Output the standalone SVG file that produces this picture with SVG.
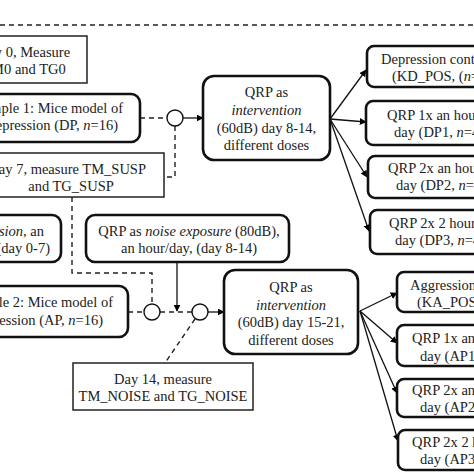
<svg xmlns="http://www.w3.org/2000/svg" width="474" height="474" viewBox="0 0 474 474">
<defs>
<marker id="ah" viewBox="0 0 10 10" refX="9" refY="5" markerWidth="7" markerHeight="7" markerUnits="userSpaceOnUse" orient="auto"><path d="M0,0 L10,5 L0,10 z" fill="#000"/></marker>
<style>
text{font-family:"Liberation Serif","Times New Roman",serif;font-size:14.5px;fill:#222}
.c{text-anchor:middle}.e{text-anchor:end}
.sq{fill:#fff;stroke:#222;stroke-width:1.5}
.rd{fill:#fff;stroke:#111;stroke-width:2.6}
.ln{fill:none;stroke:#111;stroke-width:1.3}
.ds{fill:none;stroke:#222;stroke-width:1.4;stroke-dasharray:5,4}
.ci{fill:#fff;stroke:#111;stroke-width:1.4}
</style>
</defs>
<rect width="474" height="474" fill="#fff"/>
<g id="connectors">
<line x1="0" y1="25" x2="474" y2="25" class="ds" stroke="#555"/>
<line x1="140" y1="118" x2="167" y2="118" class="ds"/>
<line x1="183" y1="118" x2="203" y2="118" class="ln" marker-end="url(#ah)"/>
<polyline points="175,126 175,177 164,177" class="ds"/>
<line x1="330" y1="119" x2="366" y2="70" class="ln" marker-end="url(#ah)"/>
<line x1="330" y1="119" x2="366" y2="122" class="ln" marker-end="url(#ah)"/>
<line x1="330" y1="119" x2="367" y2="177" class="ln" marker-end="url(#ah)"/>
<line x1="330" y1="119" x2="369" y2="231" class="ln" marker-end="url(#ah)"/>
<polyline points="72,197 72,273 152,273 152,304" class="ds"/>
<line x1="128" y1="312" x2="144" y2="312" class="ds"/>
<line x1="160" y1="312" x2="192" y2="312" class="ds"/>
<line x1="177" y1="262" x2="177" y2="311" class="ln" marker-end="url(#ah)"/>
<line x1="208" y1="312" x2="224" y2="312" class="ln" marker-end="url(#ah)"/>
<line x1="195" y1="319" x2="165" y2="363" class="ds"/>
<line x1="360" y1="311" x2="397" y2="293" class="ln" marker-end="url(#ah)"/>
<line x1="360" y1="311" x2="397" y2="343" class="ln" marker-end="url(#ah)"/>
<line x1="360" y1="311" x2="397" y2="393" class="ln" marker-end="url(#ah)"/>
<line x1="360" y1="311" x2="398" y2="441" class="ln" marker-end="url(#ah)"/>
</g>
<g id="circle1"><circle cx="175" cy="118" r="8" class="ci"/></g>
<g id="circle2"><circle cx="152" cy="312" r="8" class="ci"/></g>
<g id="circle3"><circle cx="200" cy="312" r="8" class="ci"/></g>
<g id="day0"><rect x="-40" y="36" width="127" height="47" class="sq"/>
<text x="24" y="57" class="c">Day 0, Measure</text><text x="24" y="74" class="c">TM0 and TG0</text></g>
<g id="sample1"><rect x="-40" y="94" width="180" height="48" rx="9" class="rd"/>
<text x="123" y="113" class="e">Sample 1: Mice model of</text><text x="118" y="130" class="e">Depression (DP, <tspan font-style="italic">n</tspan>=16)</text></g>
<g id="qrp1"><rect x="203" y="76" width="127" height="84" rx="11" class="rd"/>
<text x="266.5" y="97" class="c">QRP as</text><text x="266.5" y="115" class="c" font-style="italic">intervention</text>
<text x="266.5" y="132.5" class="c">(60dB) day 8-14,</text><text x="266.5" y="150" class="c">different doses</text></g>
<g id="kd"><rect x="367" y="46" width="130" height="41" rx="7" class="rd"/>
<text x="381" y="64">Depression control</text><text x="392" y="81">(KD_POS, (<tspan font-style="italic">n</tspan>=4)</text></g>
<g id="dp1"><rect x="366" y="101" width="130" height="44" rx="7" class="rd"/>
<text x="387" y="120">QRP 1x an hour a</text><text x="394" y="137">day (DP1, <tspan font-style="italic">n</tspan>=4)</text></g>
<g id="dp2"><rect x="368" y="156" width="130" height="42" rx="7" class="rd"/>
<text x="388" y="173">QRP 2x an hour a</text><text x="396" y="190">day (DP2, <tspan font-style="italic">n</tspan>=4)</text></g>
<g id="dp3"><rect x="370" y="210" width="130" height="44" rx="7" class="rd"/>
<text x="389" y="228">QRP 2x 2 hours a</text><text x="395" y="245">day (DP3, <tspan font-style="italic">n</tspan>=4)</text></g>
<g id="day7"><rect x="-22" y="153" width="186" height="44" class="sq"/>
<text x="146" y="174" class="e">Day 7, measure TM_SUSP</text><text x="71" y="191" class="c">and TG_SUSP</text></g>
<g id="aggr"><rect x="-40" y="215" width="101" height="47" rx="9" class="rd"/>
<text x="44" y="236" class="e"><tspan font-style="italic">Aggression</tspan>, an</text><text x="50" y="253" class="e">(day 0-7)</text></g>
<g id="noise"><rect x="86" y="215" width="203" height="47" rx="9" class="rd"/>
<text x="189" y="236" class="c">QRP as <tspan font-style="italic">noise exposure</tspan> (80dB),</text><text x="189" y="253" class="c">an hour/day, (day 8-14)</text></g>
<g id="sample2"><rect x="-40" y="286" width="168" height="51" rx="9" class="rd"/>
<text x="113" y="307" class="e">Sample 2: Mice model of</text><text x="103" y="325" class="e">Aggression (AP, <tspan font-style="italic">n</tspan>=16)</text></g>
<g id="day14"><rect x="73" y="363" width="180" height="47" class="sq"/>
<text x="163" y="384" class="c">Day 14, measure</text><text x="163" y="401" class="c">TM_NOISE and TG_NOISE</text></g>
<g id="qrp2"><rect x="224" y="270" width="134" height="84" rx="11" class="rd"/>
<text x="291" y="292" class="c">QRP as</text><text x="291" y="309.5" class="c" font-style="italic">intervention</text>
<text x="291" y="327" class="c">(60dB) day 15-21,</text><text x="291" y="344.5" class="c">different doses</text></g>
<g id="ka"><rect x="397" y="272" width="110" height="40" rx="7" class="rd"/>
<text x="410" y="290">Aggression control</text><text x="417" y="307">(KA_POS, <tspan font-style="italic">n</tspan>=4)</text></g>
<g id="ap1"><rect x="397" y="325" width="110" height="41" rx="7" class="rd"/>
<text x="412" y="343">QRP 1x an hour a</text><text x="420" y="361">day (AP1, <tspan font-style="italic">n</tspan>=4)</text></g>
<g id="ap2"><rect x="397" y="379" width="110" height="38" rx="7" class="rd"/>
<text x="412" y="395">QRP 2x an hour a</text><text x="420" y="412">day (AP2, <tspan font-style="italic">n</tspan>=4)</text></g>
<g id="ap3"><rect x="398" y="430" width="110" height="40" rx="7" class="rd"/>
<text x="412" y="447">QRP 2x 2 hours a</text><text x="420" y="464">day (AP3, <tspan font-style="italic">n</tspan>=4)</text></g>
</svg>
